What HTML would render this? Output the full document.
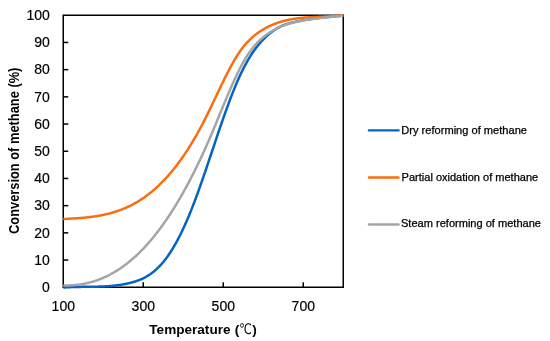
<!DOCTYPE html>
<html><head><meta charset="utf-8"><style>
html,body{margin:0;padding:0;background:#fff;}
svg{display:block;}
text{font-family:"Liberation Sans", "DejaVu Sans", sans-serif;}
</style></head><body>
<svg width="550" height="341" viewBox="0 0 550 341">
<rect width="550" height="341" fill="#fff"/>

<g stroke="#000" stroke-width="1.5" fill="none">
<rect x="63.25" y="15.25" width="280.0" height="272.0"/>
<line x1="63.25" y1="260.05" x2="68.25" y2="260.05"/><line x1="63.25" y1="232.85" x2="68.25" y2="232.85"/><line x1="63.25" y1="205.65" x2="68.25" y2="205.65"/><line x1="63.25" y1="178.45" x2="68.25" y2="178.45"/><line x1="63.25" y1="151.25" x2="68.25" y2="151.25"/><line x1="63.25" y1="124.05" x2="68.25" y2="124.05"/><line x1="63.25" y1="96.85" x2="68.25" y2="96.85"/><line x1="63.25" y1="69.65" x2="68.25" y2="69.65"/><line x1="63.25" y1="42.45" x2="68.25" y2="42.45"/><line x1="143.25" y1="287.25" x2="143.25" y2="282.25"/><line x1="223.25" y1="287.25" x2="223.25" y2="282.25"/><line x1="303.25" y1="287.25" x2="303.25" y2="282.25"/>
</g>
<g fill="none" stroke-width="2.5" stroke-linecap="butt" stroke-linejoin="round">
<path d="M63.25,287.58 L63.75,287.54 L64.25,287.50 L64.75,287.47 L65.25,287.43 L65.75,287.40 L66.24,287.37 L66.74,287.34 L67.24,287.31 L67.74,287.28 L68.24,287.25 L68.74,287.23 L69.24,287.20 L69.74,287.18 L70.24,287.16 L70.74,287.14 L71.24,287.12 L71.73,287.10 L72.23,287.08 L72.73,287.06 L73.23,287.04 L73.73,287.03 L74.23,287.01 L74.73,287.00 L75.23,286.99 L75.73,286.97 L76.23,286.96 L76.73,286.95 L77.23,286.94 L77.72,286.93 L78.22,286.92 L78.72,286.91 L79.22,286.90 L79.72,286.89 L80.22,286.89 L80.72,286.88 L81.22,286.87 L81.72,286.86 L82.22,286.86 L82.72,286.85 L83.21,286.85 L83.71,286.84 L84.21,286.83 L84.71,286.83 L85.21,286.82 L85.71,286.82 L86.21,286.81 L86.71,286.81 L87.21,286.80 L87.71,286.80 L88.21,286.79 L88.70,286.79 L89.20,286.78 L89.70,286.78 L90.20,286.77 L90.70,286.76 L91.20,286.76 L91.70,286.75 L92.20,286.75 L92.70,286.74 L93.20,286.73 L93.70,286.72 L94.19,286.71 L94.69,286.70 L95.19,286.70 L95.69,286.68 L96.19,286.67 L96.69,286.66 L97.19,286.65 L97.69,286.64 L98.19,286.63 L98.69,286.61 L99.19,286.60 L99.68,286.58 L100.18,286.56 L100.68,286.55 L101.18,286.53 L101.68,286.51 L102.18,286.49 L102.68,286.47 L103.18,286.45 L103.68,286.42 L104.18,286.40 L104.68,286.38 L105.18,286.35 L105.67,286.32 L106.17,286.29 L106.67,286.26 L107.17,286.23 L107.67,286.20 L108.17,286.17 L108.67,286.13 L109.17,286.09 L109.67,286.06 L110.17,286.02 L110.67,285.97 L111.16,285.93 L111.66,285.89 L112.16,285.84 L112.66,285.80 L113.16,285.75 L113.66,285.70 L114.16,285.64 L114.66,285.59 L115.16,285.53 L115.66,285.48 L116.16,285.42 L116.65,285.36 L117.15,285.29 L117.65,285.23 L118.15,285.16 L118.65,285.09 L119.15,285.02 L119.65,284.95 L120.15,284.87 L120.65,284.80 L121.15,284.72 L121.65,284.63 L122.14,284.55 L122.64,284.46 L123.14,284.38 L123.64,284.29 L124.14,284.19 L124.64,284.10 L125.14,284.00 L125.64,283.90 L126.14,283.80 L126.64,283.69 L127.14,283.59 L127.64,283.48 L128.13,283.36 L128.63,283.25 L129.13,283.13 L129.63,283.01 L130.13,282.89 L130.63,282.76 L131.13,282.63 L131.63,282.50 L132.13,282.36 L132.63,282.22 L133.13,282.08 L133.62,281.94 L134.12,281.79 L134.62,281.64 L135.12,281.48 L135.62,281.32 L136.12,281.15 L136.62,280.98 L137.12,280.81 L137.62,280.63 L138.12,280.45 L138.62,280.26 L139.11,280.06 L139.61,279.87 L140.11,279.66 L140.61,279.45 L141.11,279.24 L141.61,279.02 L142.11,278.79 L142.61,278.56 L143.11,278.32 L143.61,278.08 L144.11,277.83 L144.60,277.57 L145.10,277.30 L145.60,277.03 L146.10,276.76 L146.60,276.47 L147.10,276.18 L147.60,275.88 L148.10,275.57 L148.60,275.26 L149.10,274.94 L149.60,274.61 L150.09,274.27 L150.59,273.93 L151.09,273.57 L151.59,273.21 L152.09,272.84 L152.59,272.46 L153.09,272.07 L153.59,271.68 L154.09,271.27 L154.59,270.86 L155.09,270.43 L155.59,270.00 L156.08,269.56 L156.58,269.10 L157.08,268.64 L157.58,268.17 L158.08,267.69 L158.58,267.20 L159.08,266.69 L159.58,266.18 L160.08,265.66 L160.58,265.12 L161.08,264.58 L161.57,264.02 L162.07,263.45 L162.57,262.87 L163.07,262.28 L163.57,261.68 L164.07,261.07 L164.57,260.44 L165.07,259.81 L165.57,259.16 L166.07,258.50 L166.57,257.83 L167.06,257.14 L167.56,256.44 L168.06,255.74 L168.56,255.02 L169.06,254.29 L169.56,253.54 L170.06,252.79 L170.56,252.02 L171.06,251.24 L171.56,250.45 L172.06,249.65 L172.55,248.84 L173.05,248.01 L173.55,247.18 L174.05,246.33 L174.55,245.47 L175.05,244.60 L175.55,243.71 L176.05,242.82 L176.55,241.91 L177.05,240.99 L177.55,240.06 L178.05,239.12 L178.54,238.17 L179.04,237.20 L179.54,236.23 L180.04,235.24 L180.54,234.24 L181.04,233.23 L181.54,232.21 L182.04,231.18 L182.54,230.13 L183.04,229.07 L183.54,228.01 L184.03,226.93 L184.53,225.84 L185.03,224.73 L185.53,223.62 L186.03,222.50 L186.53,221.36 L187.03,220.21 L187.53,219.05 L188.03,217.88 L188.53,216.70 L189.03,215.51 L189.52,214.30 L190.02,213.09 L190.52,211.86 L191.02,210.62 L191.52,209.37 L192.02,208.11 L192.52,206.84 L193.02,205.56 L193.52,204.26 L194.02,202.96 L194.52,201.65 L195.01,200.32 L195.51,198.99 L196.01,197.65 L196.51,196.30 L197.01,194.94 L197.51,193.57 L198.01,192.20 L198.51,190.81 L199.01,189.42 L199.51,188.02 L200.01,186.62 L200.50,185.21 L201.00,183.79 L201.50,182.36 L202.00,180.93 L202.50,179.50 L203.00,178.05 L203.50,176.61 L204.00,175.16 L204.50,173.70 L205.00,172.24 L205.50,170.78 L206.00,169.31 L206.49,167.84 L206.99,166.36 L207.49,164.89 L207.99,163.41 L208.49,161.93 L208.99,160.44 L209.49,158.96 L209.99,157.47 L210.49,155.98 L210.99,154.49 L211.49,153.00 L211.98,151.51 L212.48,150.02 L212.98,148.53 L213.48,147.04 L213.98,145.55 L214.48,144.06 L214.98,142.57 L215.48,141.09 L215.98,139.60 L216.48,138.12 L216.98,136.64 L217.47,135.16 L217.97,133.69 L218.47,132.22 L218.97,130.75 L219.47,129.29 L219.97,127.83 L220.47,126.37 L220.97,124.92 L221.47,123.47 L221.97,122.03 L222.47,120.59 L222.96,119.16 L223.46,117.73 L223.96,116.31 L224.46,114.90 L224.96,113.50 L225.46,112.10 L225.96,110.70 L226.46,109.32 L226.96,107.94 L227.46,106.57 L227.96,105.21 L228.45,103.86 L228.95,102.51 L229.45,101.18 L229.95,99.85 L230.45,98.53 L230.95,97.23 L231.45,95.93 L231.95,94.64 L232.45,93.37 L232.95,92.10 L233.45,90.85 L233.95,89.61 L234.44,88.38 L234.94,87.16 L235.44,85.95 L235.94,84.76 L236.44,83.57 L236.94,82.41 L237.44,81.25 L237.94,80.11 L238.44,78.98 L238.94,77.87 L239.44,76.77 L239.93,75.69 L240.43,74.62 L240.93,73.56 L241.43,72.52 L241.93,71.49 L242.43,70.48 L242.93,69.48 L243.43,68.50 L243.93,67.52 L244.43,66.57 L244.93,65.62 L245.42,64.69 L245.92,63.78 L246.42,62.87 L246.92,61.98 L247.42,61.10 L247.92,60.24 L248.42,59.39 L248.92,58.55 L249.42,57.72 L249.92,56.91 L250.42,56.11 L250.91,55.32 L251.41,54.54 L251.91,53.78 L252.41,53.02 L252.91,52.28 L253.41,51.55 L253.91,50.83 L254.41,50.13 L254.91,49.43 L255.41,48.75 L255.91,48.08 L256.41,47.42 L256.90,46.77 L257.40,46.13 L257.90,45.50 L258.40,44.88 L258.90,44.27 L259.40,43.67 L259.90,43.09 L260.40,42.51 L260.90,41.94 L261.40,41.39 L261.90,40.84 L262.39,40.30 L262.89,39.78 L263.39,39.26 L263.89,38.75 L264.39,38.25 L264.89,37.76 L265.39,37.28 L265.89,36.81 L266.39,36.34 L266.89,35.89 L267.39,35.45 L267.88,35.01 L268.38,34.58 L268.88,34.16 L269.38,33.75 L269.88,33.35 L270.38,32.95 L270.88,32.57 L271.38,32.19 L271.88,31.82 L272.38,31.45 L272.88,31.09 L273.37,30.74 L273.87,30.40 L274.37,30.06 L274.87,29.73 L275.37,29.41 L275.87,29.10 L276.37,28.79 L276.87,28.49 L277.37,28.20 L277.87,27.92 L278.37,27.64 L278.86,27.38 L279.36,27.12 L279.86,26.87 L280.36,26.63 L280.86,26.39 L281.36,26.16 L281.86,25.94 L282.36,25.73 L282.86,25.52 L283.36,25.32 L283.86,25.13 L284.36,24.94 L284.85,24.76 L285.35,24.58 L285.85,24.41 L286.35,24.25 L286.85,24.08 L287.35,23.93 L287.85,23.78 L288.35,23.63 L288.85,23.49 L289.35,23.35 L289.85,23.21 L290.34,23.08 L290.84,22.95 L291.34,22.82 L291.84,22.69 L292.34,22.57 L292.84,22.45 L293.34,22.33 L293.84,22.22 L294.34,22.10 L294.84,21.99 L295.34,21.88 L295.83,21.76 L296.33,21.66 L296.83,21.55 L297.33,21.44 L297.83,21.34 L298.33,21.23 L298.83,21.13 L299.33,21.03 L299.83,20.94 L300.33,20.84 L300.83,20.74 L301.32,20.65 L301.82,20.56 L302.32,20.46 L302.82,20.37 L303.32,20.29 L303.82,20.20 L304.32,20.11 L304.82,20.03 L305.32,19.94 L305.82,19.86 L306.32,19.78 L306.82,19.70 L307.31,19.62 L307.81,19.54 L308.31,19.46 L308.81,19.39 L309.31,19.31 L309.81,19.24 L310.31,19.16 L310.81,19.09 L311.31,19.02 L311.81,18.95 L312.31,18.88 L312.80,18.81 L313.30,18.75 L313.80,18.68 L314.30,18.61 L314.80,18.55 L315.30,18.48 L315.80,18.42 L316.30,18.36 L316.80,18.30 L317.30,18.24 L317.80,18.17 L318.29,18.11 L318.79,18.06 L319.29,18.00 L319.79,17.94 L320.29,17.88 L320.79,17.83 L321.29,17.77 L321.79,17.71 L322.29,17.66 L322.79,17.60 L323.29,17.55 L323.78,17.50 L324.28,17.44 L324.78,17.39 L325.28,17.34 L325.78,17.29 L326.28,17.24 L326.78,17.18 L327.28,17.13 L327.78,17.08 L328.28,17.03 L328.78,16.98 L329.27,16.93 L329.77,16.88 L330.27,16.84 L330.77,16.79 L331.27,16.74 L331.77,16.69 L332.27,16.64 L332.77,16.59 L333.27,16.54 L333.77,16.50 L334.27,16.45 L334.77,16.40 L335.26,16.35 L335.76,16.30 L336.26,16.26 L336.76,16.21 L337.26,16.16 L337.76,16.11 L338.26,16.06 L338.76,16.02 L339.26,15.97 L339.76,15.92 L340.26,15.87 L340.75,15.82 L341.25,15.77 L341.75,15.72 L342.25,15.67 L342.75,15.62 L343.25,15.57" stroke="#0364C4"/>
<path d="M63.25,219.04 L63.75,219.02 L64.25,218.99 L64.75,218.97 L65.25,218.94 L65.75,218.92 L66.24,218.89 L66.74,218.87 L67.24,218.84 L67.74,218.81 L68.24,218.79 L68.74,218.76 L69.24,218.73 L69.74,218.71 L70.24,218.68 L70.74,218.65 L71.24,218.62 L71.73,218.59 L72.23,218.57 L72.73,218.54 L73.23,218.51 L73.73,218.48 L74.23,218.44 L74.73,218.41 L75.23,218.38 L75.73,218.35 L76.23,218.31 L76.73,218.28 L77.23,218.25 L77.72,218.21 L78.22,218.17 L78.72,218.14 L79.22,218.10 L79.72,218.06 L80.22,218.02 L80.72,217.98 L81.22,217.94 L81.72,217.90 L82.22,217.86 L82.72,217.81 L83.21,217.77 L83.71,217.72 L84.21,217.68 L84.71,217.63 L85.21,217.58 L85.71,217.53 L86.21,217.48 L86.71,217.43 L87.21,217.37 L87.71,217.32 L88.21,217.26 L88.70,217.21 L89.20,217.15 L89.70,217.09 L90.20,217.03 L90.70,216.97 L91.20,216.90 L91.70,216.84 L92.20,216.77 L92.70,216.71 L93.20,216.64 L93.70,216.57 L94.19,216.50 L94.69,216.42 L95.19,216.35 L95.69,216.27 L96.19,216.19 L96.69,216.11 L97.19,216.03 L97.69,215.95 L98.19,215.86 L98.69,215.78 L99.19,215.69 L99.68,215.60 L100.18,215.51 L100.68,215.41 L101.18,215.32 L101.68,215.22 L102.18,215.12 L102.68,215.02 L103.18,214.92 L103.68,214.81 L104.18,214.70 L104.68,214.59 L105.18,214.48 L105.67,214.37 L106.17,214.25 L106.67,214.14 L107.17,214.02 L107.67,213.90 L108.17,213.77 L108.67,213.65 L109.17,213.52 L109.67,213.39 L110.17,213.25 L110.67,213.12 L111.16,212.98 L111.66,212.84 L112.16,212.70 L112.66,212.55 L113.16,212.41 L113.66,212.26 L114.16,212.10 L114.66,211.95 L115.16,211.79 L115.66,211.63 L116.16,211.47 L116.65,211.31 L117.15,211.14 L117.65,210.97 L118.15,210.80 L118.65,210.62 L119.15,210.44 L119.65,210.26 L120.15,210.08 L120.65,209.89 L121.15,209.70 L121.65,209.51 L122.14,209.31 L122.64,209.12 L123.14,208.91 L123.64,208.71 L124.14,208.50 L124.64,208.29 L125.14,208.08 L125.64,207.86 L126.14,207.65 L126.64,207.42 L127.14,207.20 L127.64,206.97 L128.13,206.74 L128.63,206.50 L129.13,206.26 L129.63,206.02 L130.13,205.78 L130.63,205.53 L131.13,205.28 L131.63,205.03 L132.13,204.77 L132.63,204.51 L133.13,204.24 L133.62,203.97 L134.12,203.70 L134.62,203.43 L135.12,203.15 L135.62,202.87 L136.12,202.58 L136.62,202.29 L137.12,202.00 L137.62,201.70 L138.12,201.40 L138.62,201.10 L139.11,200.79 L139.61,200.48 L140.11,200.16 L140.61,199.85 L141.11,199.52 L141.61,199.20 L142.11,198.87 L142.61,198.53 L143.11,198.19 L143.61,197.85 L144.11,197.51 L144.60,197.16 L145.10,196.80 L145.60,196.44 L146.10,196.08 L146.60,195.72 L147.10,195.35 L147.60,194.97 L148.10,194.59 L148.60,194.21 L149.10,193.82 L149.60,193.43 L150.09,193.04 L150.59,192.64 L151.09,192.23 L151.59,191.83 L152.09,191.41 L152.59,191.00 L153.09,190.57 L153.59,190.15 L154.09,189.72 L154.59,189.29 L155.09,188.85 L155.59,188.40 L156.08,187.96 L156.58,187.50 L157.08,187.05 L157.58,186.59 L158.08,186.12 L158.58,185.65 L159.08,185.17 L159.58,184.69 L160.08,184.21 L160.58,183.72 L161.08,183.23 L161.57,182.73 L162.07,182.23 L162.57,181.72 L163.07,181.21 L163.57,180.69 L164.07,180.17 L164.57,179.64 L165.07,179.11 L165.57,178.57 L166.07,178.03 L166.57,177.49 L167.06,176.94 L167.56,176.38 L168.06,175.82 L168.56,175.25 L169.06,174.68 L169.56,174.11 L170.06,173.52 L170.56,172.94 L171.06,172.35 L171.56,171.75 L172.06,171.15 L172.55,170.54 L173.05,169.93 L173.55,169.32 L174.05,168.69 L174.55,168.07 L175.05,167.43 L175.55,166.80 L176.05,166.15 L176.55,165.51 L177.05,164.85 L177.55,164.19 L178.05,163.53 L178.54,162.86 L179.04,162.18 L179.54,161.50 L180.04,160.82 L180.54,160.13 L181.04,159.43 L181.54,158.73 L182.04,158.02 L182.54,157.31 L183.04,156.59 L183.54,155.86 L184.03,155.13 L184.53,154.40 L185.03,153.66 L185.53,152.91 L186.03,152.16 L186.53,151.40 L187.03,150.64 L187.53,149.87 L188.03,149.09 L188.53,148.31 L189.03,147.52 L189.52,146.73 L190.02,145.93 L190.52,145.13 L191.02,144.32 L191.52,143.50 L192.02,142.68 L192.52,141.85 L193.02,141.02 L193.52,140.18 L194.02,139.33 L194.52,138.48 L195.01,137.62 L195.51,136.76 L196.01,135.89 L196.51,135.01 L197.01,134.13 L197.51,133.24 L198.01,132.34 L198.51,131.44 L199.01,130.54 L199.51,129.62 L200.01,128.70 L200.50,127.78 L201.00,126.85 L201.50,125.91 L202.00,124.96 L202.50,124.01 L203.00,123.06 L203.50,122.09 L204.00,121.12 L204.50,120.15 L205.00,119.16 L205.50,118.17 L206.00,117.18 L206.49,116.18 L206.99,115.17 L207.49,114.16 L207.99,113.15 L208.49,112.13 L208.99,111.11 L209.49,110.08 L209.99,109.05 L210.49,108.01 L210.99,106.98 L211.49,105.94 L211.98,104.90 L212.48,103.85 L212.98,102.81 L213.48,101.76 L213.98,100.71 L214.48,99.66 L214.98,98.61 L215.48,97.56 L215.98,96.51 L216.48,95.45 L216.98,94.40 L217.47,93.35 L217.97,92.30 L218.47,91.26 L218.97,90.21 L219.47,89.17 L219.97,88.12 L220.47,87.08 L220.97,86.05 L221.47,85.01 L221.97,83.98 L222.47,82.95 L222.96,81.93 L223.46,80.91 L223.96,79.90 L224.46,78.88 L224.96,77.88 L225.46,76.88 L225.96,75.88 L226.46,74.90 L226.96,73.91 L227.46,72.94 L227.96,71.97 L228.45,71.00 L228.95,70.05 L229.45,69.10 L229.95,68.16 L230.45,67.22 L230.95,66.30 L231.45,65.39 L231.95,64.48 L232.45,63.58 L232.95,62.69 L233.45,61.81 L233.95,60.95 L234.44,60.09 L234.94,59.24 L235.44,58.40 L235.94,57.58 L236.44,56.77 L236.94,55.96 L237.44,55.17 L237.94,54.40 L238.44,53.63 L238.94,52.88 L239.44,52.14 L239.93,51.41 L240.43,50.70 L240.93,50.00 L241.43,49.32 L241.93,48.65 L242.43,47.99 L242.93,47.34 L243.43,46.71 L243.93,46.08 L244.43,45.48 L244.93,44.88 L245.42,44.29 L245.92,43.72 L246.42,43.16 L246.92,42.61 L247.42,42.07 L247.92,41.54 L248.42,41.02 L248.92,40.51 L249.42,40.01 L249.92,39.52 L250.42,39.04 L250.91,38.57 L251.41,38.11 L251.91,37.66 L252.41,37.22 L252.91,36.79 L253.41,36.36 L253.91,35.95 L254.41,35.54 L254.91,35.14 L255.41,34.75 L255.91,34.36 L256.41,33.99 L256.90,33.62 L257.40,33.25 L257.90,32.90 L258.40,32.55 L258.90,32.21 L259.40,31.87 L259.90,31.54 L260.40,31.21 L260.90,30.89 L261.40,30.58 L261.90,30.27 L262.39,29.96 L262.89,29.67 L263.39,29.37 L263.89,29.08 L264.39,28.80 L264.89,28.52 L265.39,28.24 L265.89,27.97 L266.39,27.70 L266.89,27.44 L267.39,27.18 L267.88,26.93 L268.38,26.68 L268.88,26.44 L269.38,26.20 L269.88,25.96 L270.38,25.73 L270.88,25.51 L271.38,25.28 L271.88,25.06 L272.38,24.85 L272.88,24.64 L273.37,24.43 L273.87,24.23 L274.37,24.03 L274.87,23.84 L275.37,23.65 L275.87,23.46 L276.37,23.28 L276.87,23.10 L277.37,22.92 L277.87,22.75 L278.37,22.58 L278.86,22.41 L279.36,22.25 L279.86,22.09 L280.36,21.94 L280.86,21.79 L281.36,21.64 L281.86,21.49 L282.36,21.35 L282.86,21.21 L283.36,21.08 L283.86,20.94 L284.36,20.82 L284.85,20.69 L285.35,20.57 L285.85,20.45 L286.35,20.33 L286.85,20.21 L287.35,20.10 L287.85,19.99 L288.35,19.89 L288.85,19.78 L289.35,19.68 L289.85,19.58 L290.34,19.49 L290.84,19.39 L291.34,19.30 L291.84,19.21 L292.34,19.13 L292.84,19.04 L293.34,18.96 L293.84,18.88 L294.34,18.81 L294.84,18.73 L295.34,18.66 L295.83,18.59 L296.33,18.52 L296.83,18.45 L297.33,18.39 L297.83,18.32 L298.33,18.26 L298.83,18.20 L299.33,18.15 L299.83,18.09 L300.33,18.04 L300.83,17.99 L301.32,17.94 L301.82,17.89 L302.32,17.84 L302.82,17.79 L303.32,17.75 L303.82,17.70 L304.32,17.66 L304.82,17.62 L305.32,17.58 L305.82,17.55 L306.32,17.51 L306.82,17.47 L307.31,17.44 L307.81,17.40 L308.31,17.37 L308.81,17.34 L309.31,17.31 L309.81,17.28 L310.31,17.25 L310.81,17.22 L311.31,17.20 L311.81,17.17 L312.31,17.14 L312.80,17.12 L313.30,17.09 L313.80,17.07 L314.30,17.05 L314.80,17.02 L315.30,17.00 L315.80,16.98 L316.30,16.96 L316.80,16.94 L317.30,16.91 L317.80,16.89 L318.29,16.87 L318.79,16.85 L319.29,16.83 L319.79,16.81 L320.29,16.79 L320.79,16.77 L321.29,16.75 L321.79,16.73 L322.29,16.70 L322.79,16.68 L323.29,16.66 L323.78,16.64 L324.28,16.62 L324.78,16.59 L325.28,16.57 L325.78,16.55 L326.28,16.52 L326.78,16.50 L327.28,16.47 L327.78,16.45 L328.28,16.42 L328.78,16.39 L329.27,16.37 L329.77,16.34 L330.27,16.31 L330.77,16.28 L331.27,16.24 L331.77,16.21 L332.27,16.18 L332.77,16.14 L333.27,16.11 L333.77,16.07 L334.27,16.03 L334.77,15.99 L335.26,15.95 L335.76,15.91 L336.26,15.87 L336.76,15.82 L337.26,15.78 L337.76,15.73 L338.26,15.68 L338.76,15.63 L339.26,15.58 L339.76,15.52 L340.26,15.47 L340.75,15.41 L341.25,15.35 L341.75,15.29 L342.25,15.23 L342.75,15.16 L343.25,15.09" stroke="#FA6E0E"/>
<path d="M63.25,285.39 L63.75,285.40 L64.25,285.41 L64.75,285.42 L65.25,285.43 L65.75,285.43 L66.24,285.44 L66.74,285.44 L67.24,285.43 L67.74,285.43 L68.24,285.42 L68.74,285.41 L69.24,285.40 L69.74,285.38 L70.24,285.36 L70.74,285.34 L71.24,285.32 L71.73,285.29 L72.23,285.26 L72.73,285.23 L73.23,285.20 L73.73,285.16 L74.23,285.12 L74.73,285.08 L75.23,285.03 L75.73,284.99 L76.23,284.94 L76.73,284.88 L77.23,284.83 L77.72,284.77 L78.22,284.71 L78.72,284.64 L79.22,284.58 L79.72,284.51 L80.22,284.43 L80.72,284.36 L81.22,284.28 L81.72,284.20 L82.22,284.12 L82.72,284.03 L83.21,283.94 L83.71,283.85 L84.21,283.75 L84.71,283.66 L85.21,283.55 L85.71,283.45 L86.21,283.34 L86.71,283.23 L87.21,283.12 L87.71,283.00 L88.21,282.89 L88.70,282.76 L89.20,282.64 L89.70,282.51 L90.20,282.38 L90.70,282.25 L91.20,282.11 L91.70,281.97 L92.20,281.83 L92.70,281.68 L93.20,281.53 L93.70,281.38 L94.19,281.22 L94.69,281.06 L95.19,280.90 L95.69,280.74 L96.19,280.57 L96.69,280.40 L97.19,280.22 L97.69,280.04 L98.19,279.86 L98.69,279.68 L99.19,279.49 L99.68,279.30 L100.18,279.10 L100.68,278.91 L101.18,278.71 L101.68,278.50 L102.18,278.29 L102.68,278.08 L103.18,277.87 L103.68,277.65 L104.18,277.43 L104.68,277.21 L105.18,276.98 L105.67,276.75 L106.17,276.51 L106.67,276.27 L107.17,276.03 L107.67,275.79 L108.17,275.54 L108.67,275.29 L109.17,275.03 L109.67,274.77 L110.17,274.51 L110.67,274.25 L111.16,273.98 L111.66,273.70 L112.16,273.43 L112.66,273.15 L113.16,272.86 L113.66,272.58 L114.16,272.28 L114.66,271.99 L115.16,271.69 L115.66,271.39 L116.16,271.08 L116.65,270.78 L117.15,270.46 L117.65,270.15 L118.15,269.83 L118.65,269.50 L119.15,269.17 L119.65,268.84 L120.15,268.51 L120.65,268.17 L121.15,267.83 L121.65,267.48 L122.14,267.13 L122.64,266.78 L123.14,266.42 L123.64,266.06 L124.14,265.69 L124.64,265.32 L125.14,264.95 L125.64,264.57 L126.14,264.19 L126.64,263.81 L127.14,263.42 L127.64,263.02 L128.13,262.63 L128.63,262.23 L129.13,261.82 L129.63,261.41 L130.13,261.00 L130.63,260.59 L131.13,260.16 L131.63,259.74 L132.13,259.31 L132.63,258.88 L133.13,258.44 L133.62,258.00 L134.12,257.56 L134.62,257.11 L135.12,256.65 L135.62,256.20 L136.12,255.74 L136.62,255.27 L137.12,254.80 L137.62,254.33 L138.12,253.85 L138.62,253.37 L139.11,252.88 L139.61,252.39 L140.11,251.90 L140.61,251.40 L141.11,250.89 L141.61,250.39 L142.11,249.88 L142.61,249.36 L143.11,248.84 L143.61,248.31 L144.11,247.79 L144.60,247.25 L145.10,246.72 L145.60,246.17 L146.10,245.63 L146.60,245.08 L147.10,244.52 L147.60,243.96 L148.10,243.40 L148.60,242.83 L149.10,242.26 L149.60,241.69 L150.09,241.10 L150.59,240.52 L151.09,239.93 L151.59,239.34 L152.09,238.74 L152.59,238.14 L153.09,237.53 L153.59,236.92 L154.09,236.30 L154.59,235.68 L155.09,235.06 L155.59,234.43 L156.08,233.79 L156.58,233.16 L157.08,232.51 L157.58,231.87 L158.08,231.22 L158.58,230.56 L159.08,229.90 L159.58,229.23 L160.08,228.57 L160.58,227.89 L161.08,227.21 L161.57,226.53 L162.07,225.84 L162.57,225.15 L163.07,224.45 L163.57,223.75 L164.07,223.05 L164.57,222.34 L165.07,221.62 L165.57,220.90 L166.07,220.18 L166.57,219.45 L167.06,218.72 L167.56,217.98 L168.06,217.24 L168.56,216.49 L169.06,215.74 L169.56,214.98 L170.06,214.22 L170.56,213.46 L171.06,212.69 L171.56,211.91 L172.06,211.13 L172.55,210.35 L173.05,209.56 L173.55,208.76 L174.05,207.97 L174.55,207.16 L175.05,206.36 L175.55,205.54 L176.05,204.73 L176.55,203.90 L177.05,203.08 L177.55,202.25 L178.05,201.41 L178.54,200.57 L179.04,199.72 L179.54,198.87 L180.04,198.02 L180.54,197.16 L181.04,196.29 L181.54,195.42 L182.04,194.55 L182.54,193.67 L183.04,192.78 L183.54,191.90 L184.03,191.00 L184.53,190.10 L185.03,189.20 L185.53,188.29 L186.03,187.38 L186.53,186.46 L187.03,185.54 L187.53,184.61 L188.03,183.68 L188.53,182.74 L189.03,181.80 L189.52,180.85 L190.02,179.90 L190.52,178.94 L191.02,177.98 L191.52,177.01 L192.02,176.04 L192.52,175.06 L193.02,174.08 L193.52,173.09 L194.02,172.10 L194.52,171.10 L195.01,170.10 L195.51,169.09 L196.01,168.08 L196.51,167.06 L197.01,166.04 L197.51,165.01 L198.01,163.98 L198.51,162.94 L199.01,161.90 L199.51,160.85 L200.01,159.80 L200.50,158.74 L201.00,157.68 L201.50,156.61 L202.00,155.54 L202.50,154.46 L203.00,153.38 L203.50,152.29 L204.00,151.20 L204.50,150.10 L205.00,149.00 L205.50,147.89 L206.00,146.77 L206.49,145.66 L206.99,144.53 L207.49,143.40 L207.99,142.27 L208.49,141.13 L208.99,139.98 L209.49,138.83 L209.99,137.68 L210.49,136.52 L210.99,135.35 L211.49,134.18 L211.98,133.00 L212.48,131.82 L212.98,130.64 L213.48,129.45 L213.98,128.26 L214.48,127.06 L214.98,125.86 L215.48,124.66 L215.98,123.46 L216.48,122.25 L216.98,121.04 L217.47,119.83 L217.97,118.62 L218.47,117.41 L218.97,116.19 L219.47,114.98 L219.97,113.76 L220.47,112.55 L220.97,111.34 L221.47,110.12 L221.97,108.91 L222.47,107.70 L222.96,106.49 L223.46,105.28 L223.96,104.08 L224.46,102.88 L224.96,101.68 L225.46,100.48 L225.96,99.29 L226.46,98.10 L226.96,96.91 L227.46,95.73 L227.96,94.55 L228.45,93.38 L228.95,92.22 L229.45,91.05 L229.95,89.90 L230.45,88.75 L230.95,87.61 L231.45,86.47 L231.95,85.34 L232.45,84.22 L232.95,83.11 L233.45,82.00 L233.95,80.90 L234.44,79.81 L234.94,78.73 L235.44,77.66 L235.94,76.59 L236.44,75.54 L236.94,74.50 L237.44,73.47 L237.94,72.44 L238.44,71.43 L238.94,70.43 L239.44,69.44 L239.93,68.47 L240.43,67.50 L240.93,66.55 L241.43,65.61 L241.93,64.68 L242.43,63.77 L242.93,62.87 L243.43,61.98 L243.93,61.11 L244.43,60.25 L244.93,59.41 L245.42,58.58 L245.92,57.76 L246.42,56.96 L246.92,56.18 L247.42,55.41 L247.92,54.65 L248.42,53.91 L248.92,53.18 L249.42,52.47 L249.92,51.77 L250.42,51.08 L250.91,50.40 L251.41,49.74 L251.91,49.09 L252.41,48.45 L252.91,47.82 L253.41,47.21 L253.91,46.61 L254.41,46.02 L254.91,45.44 L255.41,44.87 L255.91,44.31 L256.41,43.76 L256.90,43.22 L257.40,42.70 L257.90,42.18 L258.40,41.67 L258.90,41.18 L259.40,40.69 L259.90,40.21 L260.40,39.74 L260.90,39.28 L261.40,38.83 L261.90,38.39 L262.39,37.95 L262.89,37.53 L263.39,37.11 L263.89,36.70 L264.39,36.29 L264.89,35.90 L265.39,35.51 L265.89,35.12 L266.39,34.75 L266.89,34.38 L267.39,34.02 L267.88,33.66 L268.38,33.31 L268.88,32.97 L269.38,32.63 L269.88,32.30 L270.38,31.98 L270.88,31.66 L271.38,31.35 L271.88,31.05 L272.38,30.75 L272.88,30.45 L273.37,30.17 L273.87,29.88 L274.37,29.61 L274.87,29.34 L275.37,29.07 L275.87,28.81 L276.37,28.56 L276.87,28.31 L277.37,28.06 L277.87,27.82 L278.37,27.59 L278.86,27.36 L279.36,27.13 L279.86,26.91 L280.36,26.70 L280.86,26.49 L281.36,26.28 L281.86,26.08 L282.36,25.88 L282.86,25.69 L283.36,25.50 L283.86,25.31 L284.36,25.13 L284.85,24.95 L285.35,24.78 L285.85,24.61 L286.35,24.44 L286.85,24.28 L287.35,24.12 L287.85,23.96 L288.35,23.81 L288.85,23.66 L289.35,23.51 L289.85,23.37 L290.34,23.23 L290.84,23.09 L291.34,22.96 L291.84,22.83 L292.34,22.70 L292.84,22.57 L293.34,22.45 L293.84,22.33 L294.34,22.21 L294.84,22.09 L295.34,21.98 L295.83,21.87 L296.33,21.76 L296.83,21.65 L297.33,21.54 L297.83,21.44 L298.33,21.33 L298.83,21.23 L299.33,21.13 L299.83,21.04 L300.33,20.94 L300.83,20.84 L301.32,20.75 L301.82,20.66 L302.32,20.56 L302.82,20.47 L303.32,20.39 L303.82,20.30 L304.32,20.21 L304.82,20.13 L305.32,20.04 L305.82,19.96 L306.32,19.88 L306.82,19.80 L307.31,19.72 L307.81,19.64 L308.31,19.56 L308.81,19.49 L309.31,19.41 L309.81,19.34 L310.31,19.26 L310.81,19.19 L311.31,19.12 L311.81,19.05 L312.31,18.98 L312.80,18.91 L313.30,18.85 L313.80,18.78 L314.30,18.71 L314.80,18.65 L315.30,18.58 L315.80,18.52 L316.30,18.46 L316.80,18.40 L317.30,18.34 L317.80,18.27 L318.29,18.21 L318.79,18.16 L319.29,18.10 L319.79,18.04 L320.29,17.98 L320.79,17.93 L321.29,17.87 L321.79,17.81 L322.29,17.76 L322.79,17.70 L323.29,17.65 L323.78,17.60 L324.28,17.54 L324.78,17.49 L325.28,17.44 L325.78,17.39 L326.28,17.34 L326.78,17.28 L327.28,17.23 L327.78,17.18 L328.28,17.13 L328.78,17.08 L329.27,17.03 L329.77,16.98 L330.27,16.94 L330.77,16.89 L331.27,16.84 L331.77,16.79 L332.27,16.74 L332.77,16.69 L333.27,16.64 L333.77,16.60 L334.27,16.55 L334.77,16.50 L335.26,16.45 L335.76,16.40 L336.26,16.36 L336.76,16.31 L337.26,16.26 L337.76,16.21 L338.26,16.16 L338.76,16.12 L339.26,16.07 L339.76,16.02 L340.26,15.97 L340.75,15.92 L341.25,15.87 L341.75,15.82 L342.25,15.77 L342.75,15.72 L343.25,15.67" stroke="#A5A5A5"/>
</g>
<g font-size="14.9" fill="#000" stroke="#000" stroke-width="0.2">
<text x="49.9" y="291.90" text-anchor="end" textLength="7.79" lengthAdjust="spacingAndGlyphs">0</text><text x="49.9" y="264.70" text-anchor="end" textLength="15.57" lengthAdjust="spacingAndGlyphs">10</text><text x="49.9" y="237.50" text-anchor="end" textLength="15.57" lengthAdjust="spacingAndGlyphs">20</text><text x="49.9" y="210.30" text-anchor="end" textLength="15.57" lengthAdjust="spacingAndGlyphs">30</text><text x="49.9" y="183.10" text-anchor="end" textLength="15.57" lengthAdjust="spacingAndGlyphs">40</text><text x="49.9" y="155.90" text-anchor="end" textLength="15.57" lengthAdjust="spacingAndGlyphs">50</text><text x="49.9" y="128.70" text-anchor="end" textLength="15.57" lengthAdjust="spacingAndGlyphs">60</text><text x="49.9" y="101.50" text-anchor="end" textLength="15.57" lengthAdjust="spacingAndGlyphs">70</text><text x="49.9" y="74.30" text-anchor="end" textLength="15.57" lengthAdjust="spacingAndGlyphs">80</text><text x="49.9" y="47.10" text-anchor="end" textLength="15.57" lengthAdjust="spacingAndGlyphs">90</text><text x="49.9" y="19.90" text-anchor="end" textLength="23.36" lengthAdjust="spacingAndGlyphs">100</text>
<text x="63.30" y="310.9" text-anchor="middle" textLength="23.36" lengthAdjust="spacingAndGlyphs">100</text><text x="143.30" y="310.9" text-anchor="middle" textLength="23.36" lengthAdjust="spacingAndGlyphs">300</text><text x="223.30" y="310.9" text-anchor="middle" textLength="23.36" lengthAdjust="spacingAndGlyphs">500</text><text x="303.30" y="310.9" text-anchor="middle" textLength="23.36" lengthAdjust="spacingAndGlyphs">700</text>
</g>
<text y="333.6" font-size="13.4" font-weight="bold"><tspan x="149.3" textLength="81.2" lengthAdjust="spacingAndGlyphs">Temperature</tspan><tspan x="234.8" font-size="13.6" dy="0.3">(</tspan><tspan x="239.3" font-weight="normal" font-size="14.6" dy="-0.3" textLength="12.6" lengthAdjust="spacingAndGlyphs">℃</tspan><tspan x="252.2" font-size="13.6" dy="0.3">)</tspan></text>
<text transform="translate(19.0,234) rotate(-90)" font-size="13.8" font-weight="bold" textLength="166.4" lengthAdjust="spacingAndGlyphs">Conversion of methane (%)</text>
<g stroke-width="2.4" stroke-linecap="round">
<line x1="369" y1="130.4" x2="398.5" y2="130.4" stroke="#0364C4"/>
<line x1="369" y1="177.5" x2="398.5" y2="177.5" stroke="#FA6E0E"/>
<line x1="369" y1="224.5" x2="398.5" y2="224.5" stroke="#A5A5A5"/>
</g>
<g font-size="10.3" fill="#000" stroke="#000" stroke-width="0.25">
<text x="401.3" y="133.8" textLength="125.7" lengthAdjust="spacingAndGlyphs">Dry reforming of methane</text>
<text x="401.6" y="180.6" textLength="136.6" lengthAdjust="spacingAndGlyphs">Partial oxidation of methane</text>
<text x="401" y="227.4" textLength="140" lengthAdjust="spacingAndGlyphs">Steam reforming of methane</text>
</g>
</svg>
</body></html>
